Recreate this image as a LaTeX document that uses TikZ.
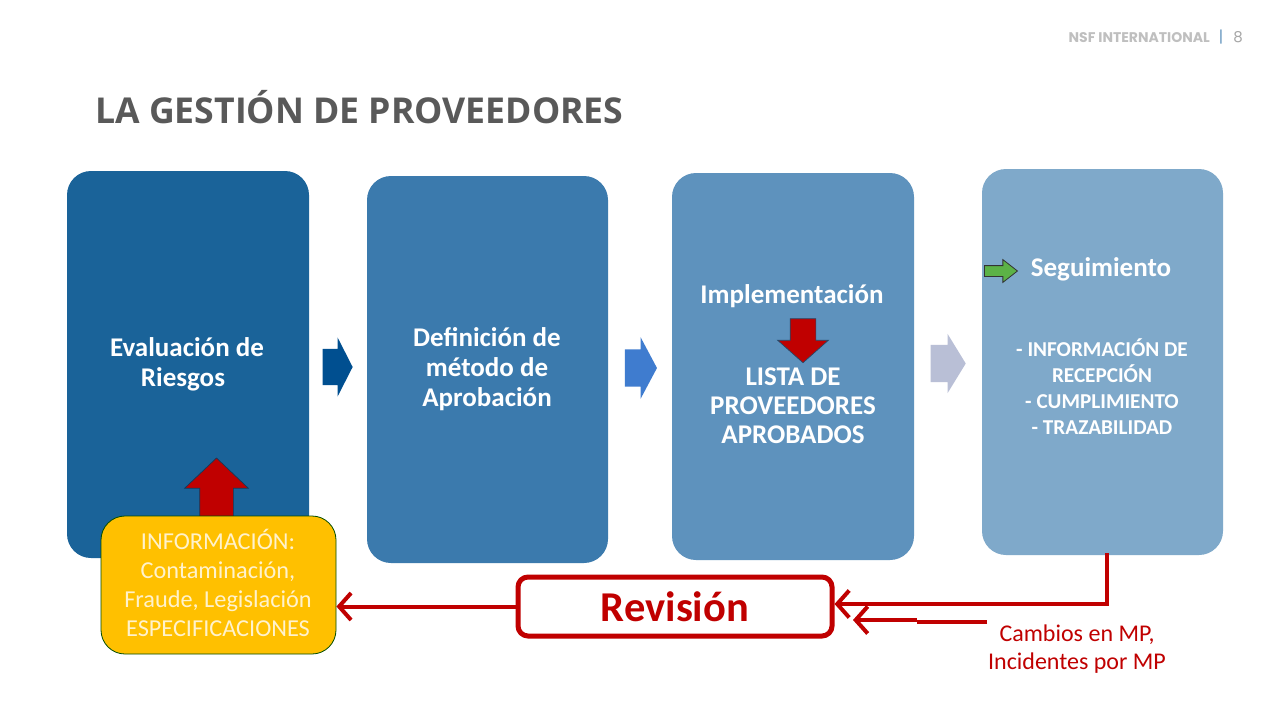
\documentclass[tikz,border=0pt]{standalone}
\usepackage{fontspec}
\setmainfont{Carlito}
\newfontfamily\titlefont{Open Sans}
\newfontfamily\headfont{Poppins}
\usetikzlibrary{shapes.arrows,arrows.meta}
\definecolor{boxa}{HTML}{1A6399}
\definecolor{boxb}{HTML}{3B7AAD}
\definecolor{boxc}{HTML}{5E92BD}
\definecolor{boxd}{HTML}{7FA9CA}
\definecolor{redline}{HTML}{C00000}
\definecolor{amber}{HTML}{FFC000}
\definecolor{arrowa}{HTML}{004F90}
\definecolor{arrowb}{HTML}{3F7CCF}
\definecolor{arrowc}{HTML}{B9BFD6}
\definecolor{arrowd}{HTML}{5CB247}
\definecolor{paleyellow}{HTML}{FFF2CC}
\tikzset{
  x=1pt,y=-1pt,
  stagebox/.style={rounded corners=24pt,minimum width=#1,inner sep=0pt,draw=none},
  steptext/.style={text=white,font=\fontsize{27}{30}\selectfont\bfseries,align=center,inner sep=0pt},
  listtext/.style={text=white,font=\fontsize{21.2}{26}\selectfont\bfseries,align=center,inner sep=0pt},
  blockarrow/.style={single arrow,inner sep=0pt,single arrow head indent=0pt},
  flow/.style={draw=redline,line width=4pt,-{Straight Barb[length=12pt,width=27pt,line width=4pt]}},
  plainflow/.style={draw=redline,line width=4pt},
}
\begin{document}
\begin{tikzpicture}
\useasboundingbox (0,0) rectangle (1280,720);
\fill[white] (0,0) rectangle (1280,720);

\node (hdr) [anchor=east,text=black!25,font=\headfont\fontsize{14}{16}\selectfont\bfseries,inner sep=0pt] at (1210,38) {NSF INTERNATIONAL};
\node (bar) [text=boxb,font=\fontsize{16}{18}\selectfont,inner sep=0pt] at (1221,37) {|};
\node (pg) [text=black!35,font=\headfont\fontsize{15}{16}\selectfont,inner sep=0pt] at (1238,37) {8};
\node (title) [anchor=west,text=black!65,font=\titlefont\fontsize{35.6}{40}\selectfont\bfseries,inner sep=0pt] at (95,107) {LA GESTIÓN DE PROVEEDORES};

\node (s1) [stagebox=242pt,minimum height=387pt,fill=boxa] at (188,364.5) {};
\node (s2) [stagebox=241pt,minimum height=387pt,fill=boxb] at (487.5,369.5) {};
\node (s3) [stagebox=242pt,minimum height=387pt,fill=boxc] at (793,366.5) {};
\node (s4) [stagebox=241pt,minimum height=386pt,fill=boxd] at (1102.5,362) {};

\node (t1) [steptext] at (187,364) {Evaluación de\\\mbox{Riesgos\hspace{8pt}}};
\node (t2) [steptext] at (487,369) {Definición de\\método de\\Aprobación};
\node (t3a) [steptext] at (792,296) {Implementación};
\node (t3b) [steptext,font=\fontsize{27}{29}\selectfont\bfseries] at (793,406) {LISTA DE\\PROVEEDORES\\APROBADOS};
\node (t4a) [steptext] at (1101,269) {Seguimiento};
\node (t4b) [listtext] at (1102,387) {- INFORMACIÓN DE\\RECEPCIÓN\\- CUMPLIMIENTO\\- TRAZABILIDAD};

\node (a1) [blockarrow,minimum height=30pt,minimum width=59pt,single arrow head extend=11.5pt,single arrow tip angle=126,fill=arrowa] at (333,367) {\rule{0pt}{36pt}};
\node (a2) [blockarrow,minimum height=32pt,minimum width=60pt,single arrow head extend=12pt,single arrow tip angle=124,fill=arrowb] at (636,368) {\rule{0pt}{37pt}};
\node (a3) [blockarrow,minimum height=35pt,minimum width=59pt,single arrow head extend=11pt,single arrow tip angle=117,fill=arrowc] at (942.5,363.5) {\rule{0pt}{37pt}};
\node (a4) [blockarrow,minimum height=33pt,minimum width=22pt,single arrow head extend=6pt,single arrow tip angle=76,fill=arrowd,draw=black!80,line width=0.8pt] at (997.5,271) {\rule{0pt}{10pt}};
\node (a5) [blockarrow,minimum height=44pt,minimum width=50pt,single arrow head extend=12.5pt,single arrow tip angle=97,rotate=-90,fill=redline,draw=boxb!60!black,line width=0.7pt] at (803,335) {\rule{0pt}{25pt}};
\node (a6) [blockarrow,minimum height=61pt,minimum width=63pt,single arrow head extend=15pt,single arrow tip angle=93,rotate=90,fill=redline,draw=boxa!60!black,line width=0.7pt] at (216.5,496.5) {\rule{0pt}{33pt}};

\node (info) [rounded corners=24pt,minimum width=235pt,minimum height=138pt,fill=amber,draw=black!70!green,line width=0.8pt,inner sep=0pt] at (218.5,585) {};
\node (infotext) [inner sep=0pt,text=paleyellow,font=\fontsize{24.3}{29}\selectfont,align=center] at (218,583) {INFORMACIÓN:\\Contaminación,\\Fraude, Legislación\\ESPECIFICACIONES};

\node (rev) [rounded corners=10pt,minimum width=314pt,minimum height=59pt,draw=redline,line width=5pt,fill=white,inner sep=0pt,text=redline,font=\fontsize{42.5}{44}\selectfont\bfseries] at (675,606.5) {Revisión};

\node (chg) [text=redline,font=\fontsize{24}{28}\selectfont,align=center,inner sep=0pt] at (1077,649) {Cambios en MP,\\Incidentes por MP};

\coordinate (c1) at (1107,553);
\coordinate (c2) at (1107,604);
\coordinate (c3) at (987,622);
\coordinate (c4) at (917,622);
\coordinate (c5) at (917,620);
\coordinate (c6) at (853,620);

\draw[flow] (rev.west) -- (info.east |- rev.west);
\draw[flow] (c1) -- (c2) -- (rev.east |- c2);
\draw[plainflow] (c3) -- (c4);
\draw[flow] (c5) -- (c6);
\end{tikzpicture}
\end{document}
